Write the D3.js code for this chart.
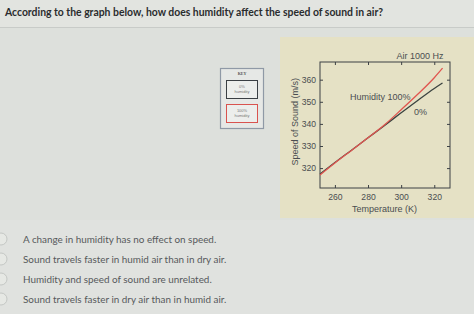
<!DOCTYPE html>
<html>
<head>
<meta charset="utf-8">
<script src="https://cdn.jsdelivr.net/npm/d3@7"></script>
<style>
  body { margin: 0; background: #dde0dc; }
  svg { display: block; }
</style>
</head>
<body>
<svg width="474" height="314"></svg>
<script>
// question + answer text
var question = "According to the graph below, how does humidity affect the speed of sound in air?";
var choices = [
    "A change in humidity has no effect on speed.",
    "Sound travels faster in humid air than in dry air.",
    "Humidity and speed of sound are unrelated.",
    "Sound travels faster in dry air than in humid air."
];

// chart data
var temps = [251, 260, 270, 280, 290, 300, 310, 320, 325];
var dry = [317.3, 322.5, 328.1, 333.7, 339.3, 345.0, 350.6, 356.0, 358.5];
var humid = [316.9, 322.3, 328.0, 333.7, 339.6, 346.4, 353.4, 360.9, 365.2];
var xticks = [260, 280, 300, 320];
var yticks = [320, 330, 340, 350, 360];

var svg = d3.select("svg");

// photo-ish background: header strip and yellowish chart image
svg.append("rect").attr("x", 0).attr("y", 0).attr("width", 474).attr("height", 27).attr("fill", "#e2e4e0");
svg.append("line").attr("x1", 0).attr("x2", 474).attr("y1", 27.5).attr("y2", 27.5)
    .attr("stroke", "#c8cbc8").attr("stroke-width", 1);
svg.append("rect").attr("x", 0).attr("y", 220).attr("width", 474).attr("height", 94).attr("fill", "#e0e2df");
svg.append("rect").attr("x", 280).attr("y", 37).attr("width", 194).attr("height", 181).attr("fill", "#e5e1c5");

svg.append("text")
    .attr("x", 5).attr("y", 16)
    .style("font-family", "Lato").style("font-weight", "bold").style("font-size", "10.4px")
    .attr("fill", "#2a2c2e")
    .text(question);

// answer choices
var opts = svg.append("g");
choices.forEach(function(c, i) {
    var y = 239 + i * 20;
    opts.append("circle").attr("cx", 1).attr("cy", y).attr("r", 6)
        .attr("fill", "#e6e8e4").attr("stroke", "#c4c7c4");
    opts.append("text")
        .attr("x", 23).attr("y", y + 3.5)
        .style("font-family", "Lato").style("font-size", "9.9px")
        .attr("fill", "#56595b")
        .text(c);
});

// key box
var key = svg.append("g");
key.append("rect").attr("x", 220.5).attr("y", 68.5).attr("width", 43).attr("height", 60)
    .attr("fill", "#e6e8e6").attr("stroke", "#8f99a6").attr("stroke-width", 1.2);
key.append("text").attr("x", 242).attr("y", 75).attr("text-anchor", "middle")
    .style("font-family", "Liberation Serif").style("font-size", "4px").style("font-weight", "bold")
    .attr("fill", "#555").text("KEY");
[["0%", "#3a3f44", 80], ["100%", "#d9534f", 104]].forEach(function(k) {
    key.append("rect").attr("x", 226.5).attr("y", k[2] + 0.5).attr("width", 31).attr("height", 18)
        .attr("fill", "#eceeec").attr("stroke", k[1]).attr("stroke-width", 1);
    key.append("text").attr("x", 242).attr("y", k[2] + 8).attr("text-anchor", "middle")
        .style("font-family", "Liberation Sans").style("font-size", "4px")
        .attr("fill", "#777").text(k[0]);
    key.append("text").attr("x", 242).attr("y", k[2] + 13).attr("text-anchor", "middle")
        .style("font-family", "Liberation Sans").style("font-size", "4px")
        .attr("fill", "#777").text("humidity");
});

// scales
var x = d3.scaleLinear().domain([251, 329.5]).range([320, 450]);
var y = d3.scaleLinear().domain([311, 368]).range([188, 62]);

var plot = svg.append("g");
var axisFont = "Liberation Sans";
var ink = "#4a4d50";

plot.append("rect")
    .attr("x", x.range()[0]).attr("y", y.range()[1])
    .attr("width", x.range()[1] - x.range()[0]).attr("height", y.range()[0] - y.range()[1])
    .attr("fill", "none").attr("stroke", "#3d4145").attr("stroke-width", 1);

// inward ticks on all four sides
function styleAxis(g) {
    g.select(".domain").remove();
    g.selectAll("line").attr("stroke", "#3d4145");
    g.selectAll("text").style("font-family", axisFont).style("font-size", "8.6px").attr("fill", ink);
}
plot.append("g").attr("transform", "translate(0," + y.range()[0] + ")")
    .call(d3.axisBottom(x).tickValues(xticks).tickSize(-3).tickPadding(6))
    .call(styleAxis);
plot.append("g").attr("transform", "translate(0," + y.range()[1] + ")")
    .call(d3.axisTop(x).tickValues(xticks).tickSize(-3).tickFormat(""))
    .call(styleAxis);
plot.append("g").attr("transform", "translate(" + x.range()[0] + ",0)")
    .call(d3.axisLeft(y).tickValues(yticks).tickSize(-3).tickPadding(4))
    .call(styleAxis);
plot.append("g").attr("transform", "translate(" + x.range()[1] + ",0)")
    .call(d3.axisRight(y).tickValues(yticks).tickSize(-3).tickFormat(""))
    .call(styleAxis);

var line = d3.line()
    .x(function(d) { return x(d[0]); })
    .y(function(d) { return y(d[1]); })
    .curve(d3.curveMonotoneX);

plot.append("path").datum(d3.zip(temps, dry))
    .attr("d", line).attr("fill", "none").attr("stroke", "#3b4340").attr("stroke-width", 1.3);
plot.append("path").datum(d3.zip(temps, humid))
    .attr("d", line).attr("fill", "none").attr("stroke", "#e0554f").attr("stroke-width", 1.3);

// labels
function label(tx, ty, s, anchor) {
    return plot.append("text").attr("x", tx).attr("y", ty).attr("text-anchor", anchor || "start")
        .style("font-family", axisFont).style("font-size", "9px").attr("fill", ink).text(s);
}
label(420, y(368) - 3, "Air 1000 Hz", "middle");
label(350, 100, "Humidity 100%");
label(414, 115, "0%");
label(x(290), 212, "Temperature (K)", "middle");
plot.append("text")
    .attr("transform", "translate(298," + y(341) + ") rotate(-90)")
    .attr("text-anchor", "middle")
    .style("font-family", axisFont).style("font-size", "9px").attr("fill", ink)
    .text("Speed of Sound (m/s)");
</script>
</body>
</html>
